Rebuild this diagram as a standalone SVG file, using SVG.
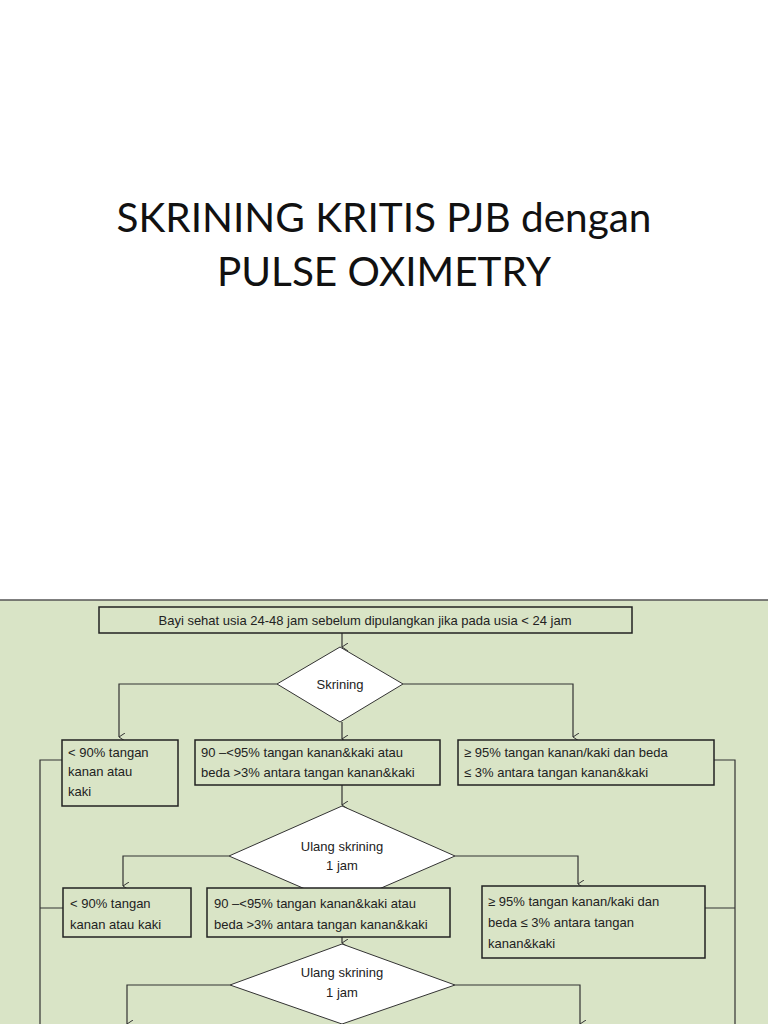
<svg xmlns="http://www.w3.org/2000/svg" width="768" height="1024" viewBox="0 0 768 1024">
<defs>
<marker id="a" markerWidth="8" markerHeight="8" refX="4" refY="7" orient="auto-start-reverse" markerUnits="userSpaceOnUse" viewBox="0 0 8 8"><path d="M0,1 L4,7 L8,1" fill="none" stroke="#333" stroke-width="1"/></marker>
</defs>
<style>
.t{font-family:"Liberation Sans Narrow","Liberation Sans",Arial,sans-serif;font-size:13px;fill:#222}
.b{fill:#d9e4c6;stroke:#222;stroke-width:1.5}
.d{fill:#fff;stroke:#333;stroke-width:1}
.c{fill:none;stroke:#333;stroke-width:1.2}
.ar{marker-end:url(#a)}
.h{font-family:Lato,"Open Sans",sans-serif;font-size:40.5px;fill:#111;text-anchor:middle}
</style>
<rect width="768" height="1024" fill="#fff"/>
<rect x="0" y="600" width="768" height="424" fill="#d9e4c6"/>
<line x1="0" y1="600" x2="768" y2="600" stroke="#555" stroke-width="1.5"/>
<text class="h" x="384" y="232">SKRINING KRITIS PJB dengan</text>
<text class="h" x="384" y="286">PULSE OXIMETRY</text>
<g id="connectors">
<path class="c ar" d="M342,633 V647"/>
<path class="c ar" d="M277,684 H119 V737"/>
<path class="c ar" d="M403,684 H573 V737"/>
<path class="c ar" d="M342,722 V739"/>
<path class="c ar" d="M342,785 V805"/>
<path class="c ar" d="M229,856 H123 V886"/>
<path class="c ar" d="M455,856 H578 V884"/>
<path class="c ar" d="M342,905 V887"/>
<path class="c ar" d="M342,937 V943"/>
<path class="c ar" d="M230,985 H127 V1024"/>
<path class="c ar" d="M455,985 H580 V1024"/>
<path class="c" d="M62,760 H40 V1024 M40,908 H63"/>
<path class="c" d="M714,760 H735 V1024 M705,908 H735"/>
</g>
<g id="start"><rect class="b" x="99" y="607" width="533" height="26"/><text class="t" x="365" y="625" text-anchor="middle">Bayi sehat usia 24-48 jam sebelum dipulangkan jika pada usia &lt; 24 jam</text></g>
<g id="d1"><polygon class="d" points="340,647 403,684 340,722 277,684"/><text class="t" x="340" y="689" text-anchor="middle" font-size="11">Skrining</text></g>
<g id="l1"><rect class="b" x="62" y="740" width="116" height="66"/><text class="t" x="68" y="757">&lt; 90% tangan</text><text class="t" x="68" y="776">kanan atau</text><text class="t" x="68" y="796">kaki</text></g>
<g id="m1"><rect class="b" x="195" y="740" width="245" height="45"/><text class="t" x="201" y="757">90   –&lt;95% tangan kanan&amp;kaki atau</text><text class="t" x="201" y="777">beda &gt;3% antara tangan kanan&amp;kaki</text></g>
<g id="r1"><rect class="b" x="458" y="740" width="256" height="45"/><text class="t" x="464" y="757">≥ 95% tangan kanan/kaki dan beda</text><text class="t" x="464" y="777">≤ 3% antara tangan kanan&amp;kaki</text></g>
<g id="d2"><polygon class="d" points="342,806 455,856 342,905 229,856"/><text class="t" x="342" y="851" text-anchor="middle">Ulang skrining</text><text class="t" x="342" y="870" text-anchor="middle">1 jam</text></g>
<g id="l2"><rect class="b" x="63" y="888" width="128" height="49"/><text class="t" x="70" y="908">&lt; 90% tangan</text><text class="t" x="70" y="929">kanan atau kaki</text></g>
<g id="m2"><rect class="b" x="207" y="888" width="243" height="49"/><text class="t" x="214" y="908">90   –&lt;95% tangan kanan&amp;kaki atau</text><text class="t" x="214" y="929">beda &gt;3% antara tangan kanan&amp;kaki</text></g>
<g id="r2"><rect class="b" x="482" y="886" width="223" height="72"/><text class="t" x="488" y="906">≥ 95% tangan kanan/kaki dan</text><text class="t" x="488" y="927">beda ≤ 3% antara tangan</text><text class="t" x="488" y="948">kanan&amp;kaki</text></g>
<g id="d3"><polygon class="d" points="342,944 455,985 342,1024 230,985"/><text class="t" x="342" y="977" text-anchor="middle">Ulang skrining</text><text class="t" x="342" y="997" text-anchor="middle">1 jam</text></g>
</svg>
